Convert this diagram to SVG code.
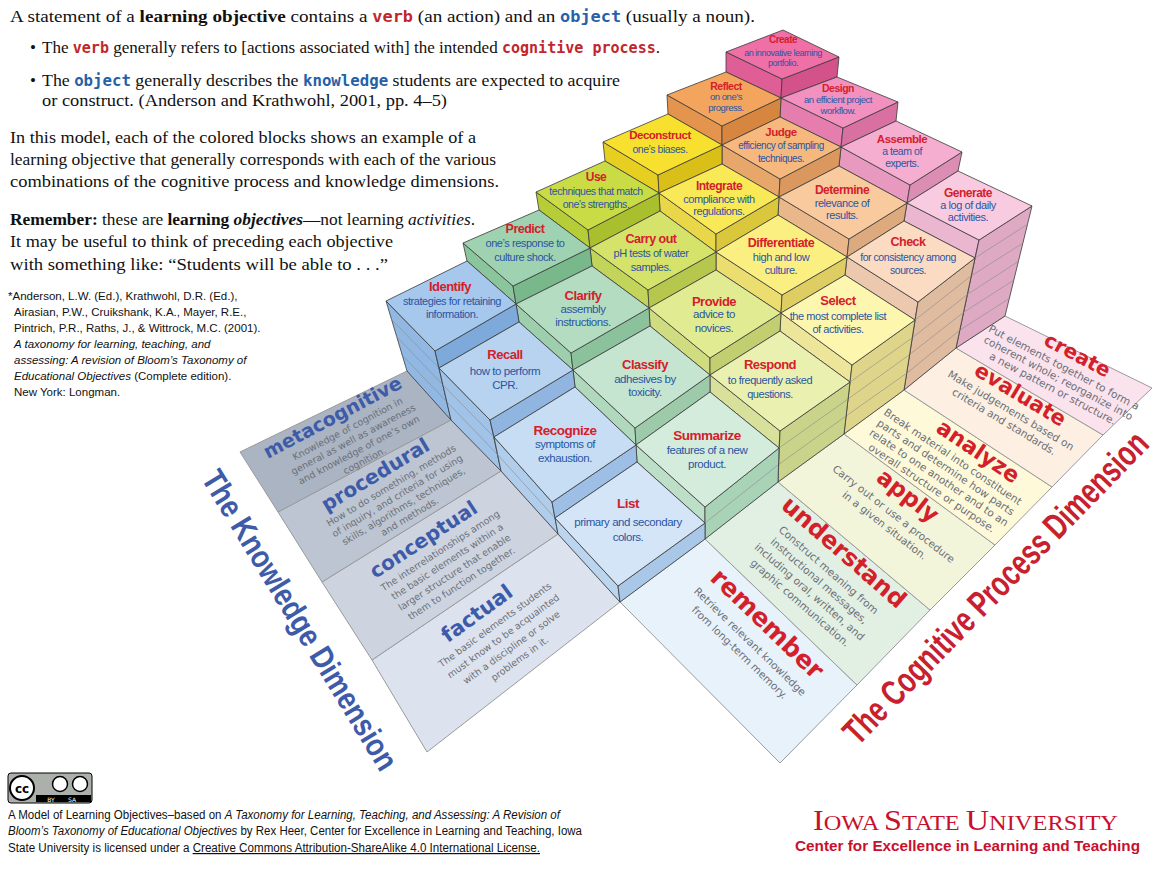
<svg xmlns="http://www.w3.org/2000/svg" width="1167" height="872" viewBox="0 0 1167 872">
<defs>
<style>
.e{stroke:#3a3a3a;stroke-width:0.8;stroke-linejoin:round}
.st{stroke:#8a8a8a;stroke-width:0.6;fill:none}
.fs{stroke:#9a9a9a;stroke-width:1}
.v{font-family:'Liberation Sans Narrow','Liberation Sans',sans-serif;font-weight:bold;fill:#d4202b;text-anchor:middle;letter-spacing:-0.5px}
.d{font-family:'Liberation Sans Narrow','Liberation Sans',sans-serif;fill:#2a55a3;text-anchor:middle;letter-spacing:-0.45px}
.kt{font-family:'DejaVu Sans',sans-serif;font-weight:bold;fill:#3d5ba9;text-anchor:middle}
.kd{font-family:'DejaVu Sans',sans-serif;fill:#6b6f78;text-anchor:middle;font-size:9.5px}
.ct{font-family:'DejaVu Sans',sans-serif;font-weight:bold;fill:#d4202b;text-anchor:middle}
.cd{font-family:'DejaVu Sans',sans-serif;fill:#6b6f78;text-anchor:middle;font-size:10.5px}
.h{font-family:'Liberation Serif',serif;font-size:17px;fill:#111}
.b{font-weight:bold}
.r{fill:#c0272d;font-weight:bold;font-family:'DejaVu Sans Mono',monospace;font-size:15px}
.bl{fill:#2461a8;font-weight:bold;font-family:'DejaVu Sans Mono',monospace;font-size:15px}
.ref{font-family:'Liberation Sans Narrow','Liberation Sans',sans-serif;font-size:11.5px;fill:#111}
.ft{font-family:'Liberation Sans Narrow','Liberation Sans',sans-serif;font-size:12px;fill:#111}
</style>
</defs>
<rect width="1167" height="872" fill="#fff"/>

<g id="header">
<text class="h" x="10" y="22" textLength="745" lengthAdjust="spacingAndGlyphs">A statement of a <tspan class="b">learning objective</tspan> contains a <tspan class="r">verb</tspan> (an action) and an <tspan class="bl">object</tspan> (usually a noun).</text>
<text class="h" x="30" y="53">•</text>
<text class="h" x="42" y="53" textLength="618" lengthAdjust="spacingAndGlyphs">The <tspan class="r">verb</tspan> generally refers to [actions associated with] the intended <tspan class="r">cognitive process</tspan>.</text>
<text class="h" x="30" y="86">•</text>
<text class="h" x="42" y="86" textLength="578" lengthAdjust="spacingAndGlyphs">The <tspan class="bl">object</tspan> generally describes the <tspan class="bl">knowledge</tspan> students are expected to acquire</text>
<text class="h" x="42" y="106" textLength="405" lengthAdjust="spacingAndGlyphs">or construct. (Anderson and Krathwohl, 2001, pp. 4–5)</text>
<text class="h" x="10" y="143" textLength="466" lengthAdjust="spacingAndGlyphs">In this model, each of the colored blocks shows an example of a</text>
<text class="h" x="10" y="165" textLength="486" lengthAdjust="spacingAndGlyphs">learning objective that generally corresponds with each of the various</text>
<text class="h" x="10" y="187" textLength="489" lengthAdjust="spacingAndGlyphs">combinations of the cognitive process and knowledge dimensions.</text>
<text class="h" x="10" y="225" textLength="465" lengthAdjust="spacingAndGlyphs"><tspan class="b">Remember:</tspan> these are <tspan class="b">learning <tspan font-style="italic">objectives</tspan></tspan>—not learning <tspan font-style="italic">activities</tspan>.</text>
<text class="h" x="10" y="247" textLength="383" lengthAdjust="spacingAndGlyphs">It may be useful to think of preceding each objective</text>
<text class="h" x="10" y="270" textLength="378" lengthAdjust="spacingAndGlyphs">with something like: “Students will be able to . . .”</text>
</g>

<g id="reference">
<text class="ref" x="8" y="300">*Anderson, L.W. (Ed.), Krathwohl, D.R. (Ed.),</text>
<text class="ref" x="14" y="316">Airasian, P.W., Cruikshank, K.A., Mayer, R.E.,</text>
<text class="ref" x="14" y="332">Pintrich, P.R., Raths, J., &amp; Wittrock, M.C. (2001).</text>
<text class="ref" x="14" y="348" font-style="italic">A taxonomy for learning, teaching, and</text>
<text class="ref" x="14" y="364" font-style="italic">assessing: A revision of Bloom’s Taxonomy of</text>
<text class="ref" x="14" y="380"><tspan font-style="italic">Educational Objectives</tspan> (Complete edition).</text>
<text class="ref" x="14" y="396">New York: Longman.</text>
</g>

<g id="floor">
<polygon class="fs" fill="#dde3ee" points="620,602 558,534 372,660 427,752"/>
<polygon class="fs" fill="#cdd4df" points="558,534 501,471 322,582 372,660"/>
<polygon class="fs" fill="#bcc5d1" points="501,471 451,420 278,512 322,582"/>
<polygon class="fs" fill="#aab4c2" points="451,420 407,371 240,452 278,512"/>
<polygon class="fs" fill="#e7f2fb" points="620,602 705,539 857,685 780,763"/>
<polygon class="fs" fill="#e2efe3" points="705,539 778,482 930,610 857,685"/>
<polygon class="fs" fill="#f3f5db" points="778,482 844,434 995,545 930,610"/>
<polygon class="fs" fill="#fdf9d9" points="844,434 904,390 1052,487 995,545"/>
<polygon class="fs" fill="#fdefe1" points="904,390 956,348 1103,435 1052,487"/>
<polygon class="fs" fill="#fbe3ee" points="956,348 1005,316 1152,388 1103,435"/>
</g>

<g id="knowledge-labels">
<g transform="translate(344,439) rotate(-28)"><text class="kt" font-size="19" y="-18">metacognitive</text><text class="kd" x="8" y="-4">Knowledge of cognition in</text><text class="kd" x="8" y="8">general as well as awareness</text><text class="kd" x="8" y="20">and knowledge of one’s own</text><text class="kd" x="8" y="32">cognition.</text></g>
<g transform="translate(388,496) rotate(-31)"><text class="kt" font-size="20" y="-18">procedural</text><text class="kd" x="8" y="-4">How to do something, methods</text><text class="kd" x="8" y="8">of inquiry, and criteria for using</text><text class="kd" x="8" y="20">skills, algorithms, techniques,</text><text class="kd" x="8" y="32">and methods.</text></g>
<g transform="translate(438,562) rotate(-33)"><text class="kt" font-size="20" y="-20">conceptual</text><text class="kd" x="8" y="-5" font-size="10">The interrelationships among</text><text class="kd" x="8" y="8" font-size="10">the basic elements within a</text><text class="kd" x="8" y="21" font-size="10">larger structure that enable</text><text class="kd" x="8" y="34" font-size="10">them to function together.</text></g>
<g transform="translate(494,637) rotate(-36)"><text class="kt" font-size="21" y="-22">factual</text><text class="kd" x="8" y="-6" font-size="10.5">The basic elements students</text><text class="kd" x="8" y="8" font-size="10.5">must know to be acquainted</text><text class="kd" x="8" y="22" font-size="10.5">with a discipline or solve</text><text class="kd" x="8" y="36" font-size="10.5">problems in it.</text></g>
</g>

<g id="cognitive-labels">
<g transform="translate(742,650) rotate(44)"><text class="ct" font-size="25" y="-28">remember</text><text class="cd" font-size="11" y="-8">Retrieve relevant knowledge</text><text class="cd" font-size="11" y="7">from long-term memory.</text></g>
<g transform="translate(819,581) rotate(41)"><text class="ct" font-size="24" y="-30">understand</text><text class="cd" y="-11">Construct meaning from</text><text class="cd" y="3.5">instructional messages,</text><text class="cd" y="18">including oral, written, and</text><text class="cd" y="32.5">graphic communication.</text></g>
<g transform="translate(889,520) rotate(38)"><text class="ct" font-size="23" y="-23">apply</text><text class="cd" y="-4">Carry out or use a procedure</text><text class="cd" y="10.5">in a given situation.</text></g>
<g transform="translate(948,464) rotate(34)"><text class="ct" font-size="22" x="18" y="-20">analyze</text><text class="cd" font-size="9.5" y="-5">Break material into constituent</text><text class="cd" font-size="9.5" y="7.5">parts and determine how parts</text><text class="cd" font-size="9.5" y="20">relate to one another and to an</text><text class="cd" font-size="9.5" y="32.5">overall structure or purpose.</text></g>
<g transform="translate(1007,417) rotate(31)"><text class="ct" font-size="21" y="-19">evaluate</text><text class="cd" font-size="10" y="-4">Make judgements based on</text><text class="cd" font-size="10" y="9">criteria and standards.</text></g>
<g transform="translate(1060,375) rotate(28)"><text class="ct" font-size="20" x="6" y="-19">create</text><text class="cd" font-size="9.5" y="-5">Put elements together to form a</text><text class="cd" font-size="9.5" y="7">coherent whole; reorganize into</text><text class="cd" font-size="9.5" y="19">a new pattern or structure.</text></g>
</g>

<g id="titles">
<text transform="translate(300,620) rotate(58.6)" font-family="'Liberation Sans Narrow','Liberation Sans',sans-serif" font-size="32" font-weight="bold" fill="#3d5ba9" text-anchor="middle" dy="11" textLength="345" lengthAdjust="spacingAndGlyphs">The Knowledge Dimension</text>
<text transform="translate(995,587) rotate(-45.8)" font-family="'Liberation Sans Narrow','Liberation Sans',sans-serif" font-size="36" font-weight="bold" fill="#c8202f" text-anchor="middle" dy="13" textLength="420" lengthAdjust="spacingAndGlyphs">The Cognitive Process Dimension</text>
</g>

<g id="connectors"></g>

<g id="create-meta">
<polygon class="e" fill="#e05e96" points="782,79 726,52 726,72 781,98"/>
<polygon class="e" fill="#d3528a" points="782,79 839,57 837,77 781,98"/>
<polygon class="e" fill="#ee70a7" points="782,79 839,57 783,30 726,52"/>
<text class="v" x="783" y="43" font-size="10">Create</text>
<text class="d" x="783" y="56" font-size="9">an innovative learning</text>
<text class="d" x="783" y="66" font-size="9">portfolio.</text>
</g>
<g id="design">
<polygon class="e" fill="#e57dae" points="843,128 781,98 780,117 841,147"/>
<polygon class="e" fill="#d871a2" points="843,128 898,102 896,121 841,147"/>
<polygon class="e" fill="#f291bf" points="843,128 898,102 837,77 781,98"/>
<text class="v" x="838" y="92" font-size="10.5">Design</text>
<text class="d" x="838" y="103" font-size="9.5">an efficient project</text>
<text class="d" x="838" y="114" font-size="9.5">workflow.</text>
</g>
<g id="reflect">
<polygon class="e" fill="#e4944c" points="722,126 667,95 668,114 722,145"/>
<polygon class="e" fill="#d78640" points="722,126 781,98 780,117 722,145"/>
<polygon class="e" fill="#f3a55d" points="722,126 781,98 726,72 667,95"/>
<text class="v" x="726" y="90" font-size="10.5">Reflect</text>
<text class="d" x="726" y="100" font-size="9.5">on one’s</text>
<text class="d" x="726" y="111" font-size="9.5">progress.</text>
</g>
<g id="assemble">
<polygon class="e" fill="#e899bf" points="910,185 841,147 839,166 907,203"/>
<polygon class="e" fill="#db8db3" points="910,185 962,152 958,171 907,203"/>
<polygon class="e" fill="#f5add0" points="910,185 962,152 896,121 841,147"/>
<text class="v" x="902" y="143" font-size="11.5">Assemble</text>
<text class="d" x="902" y="155" font-size="10.5">a team of</text>
<text class="d" x="902" y="167" font-size="10.5">experts.</text>
</g>
<g id="judge">
<polygon class="e" fill="#e7a66a" points="780,179 722,145 722,164 779,197"/>
<polygon class="e" fill="#da985e" points="780,179 841,147 839,166 779,197"/>
<polygon class="e" fill="#f6b87c" points="780,179 841,147 780,117 722,145"/>
<text class="v" x="781" y="136" font-size="11.5">Judge</text>
<text class="d" x="781" y="149" font-size="10">efficiency of sampling</text>
<text class="d" x="781" y="162" font-size="10">techniques.</text>
</g>
<g id="deconstruct">
<polygon class="e" fill="#e7cf22" points="658,175 603,142 605,161 659,193"/>
<polygon class="e" fill="#d9bf18" points="658,175 722,145 722,164 659,193"/>
<polygon class="e" fill="#f8e12e" points="658,175 722,145 668,114 603,142"/>
<text class="v" x="660" y="139" font-size="11.5">Deconstruct</text>
<text class="d" x="660" y="153" font-size="10.5">one’s biases.</text>
</g>
<g id="generate">
<polygon class="e" fill="#ebb6cf" points="979,240 907,203 904,221 975,258"/>
<polygon class="e" fill="#deaac3" points="979,240 1032,206 1005,316 956,348"/>
<path class="st" d="M960,330L1010,298M964,312L1014,280M968,294L1019,261M971,276L1023,243M975,258L1028,224"/>
<polygon class="e" fill="#f9cbe0" points="979,240 1032,206 958,171 907,203"/>
<text class="v" x="968" y="197" font-size="12">Generate</text>
<text class="d" x="968" y="209" font-size="11">a log of daily</text>
<text class="d" x="968" y="221" font-size="11">activities.</text>
</g>
<g id="determine">
<polygon class="e" fill="#eab78a" points="849,239 779,197 778,215 847,257"/>
<polygon class="e" fill="#ddaa7e" points="849,239 907,203 904,221 847,257"/>
<polygon class="e" fill="#f9ca9e" points="849,239 907,203 839,166 779,197"/>
<text class="v" x="842" y="194" font-size="12">Determine</text>
<text class="d" x="842" y="207" font-size="11">relevance of</text>
<text class="d" x="842" y="219" font-size="11">results.</text>
</g>
<g id="integrate">
<polygon class="e" fill="#e9d749" points="716,234 659,193 660,211 716,252"/>
<polygon class="e" fill="#dbc73c" points="716,234 779,197 778,215 716,252"/>
<polygon class="e" fill="#fae957" points="716,234 779,197 722,164 659,193"/>
<text class="v" x="719" y="190" font-size="12">Integrate</text>
<text class="d" x="719" y="203" font-size="11">compliance with</text>
<text class="d" x="719" y="215" font-size="11">regulations.</text>
</g>
<g id="use">
<polygon class="e" fill="#b7cd38" points="588,230 536,192 539,210 590,248"/>
<polygon class="e" fill="#a9bf2e" points="588,230 659,193 660,211 590,248"/>
<polygon class="e" fill="#c9dc45" points="588,230 659,193 605,161 536,192"/>
<text class="v" x="596" y="181" font-size="12">Use</text>
<text class="d" x="596" y="195" font-size="10.5">techniques that match</text>
<text class="d" x="596" y="208" font-size="10.5">one’s strengths.</text>
</g>
<g id="check">
<polygon class="e" fill="#ecc9ae" points="918,302 847,257 845,275 915,320"/>
<polygon class="e" fill="#dfbba0" points="918,302 975,258 956,348 904,390"/>
<path class="st" d="M907,373L960,330M909,355L964,312M912,338L968,294M915,320L971,276"/>
<polygon class="e" fill="#fbdcc2" points="918,302 975,258 904,221 847,257"/>
<text class="v" x="908" y="246" font-size="12.5">Check</text>
<text class="d" x="908" y="261" font-size="10.5">for consistency among</text>
<text class="d" x="908" y="274" font-size="10.5">sources.</text>
</g>
<g id="differentiate">
<polygon class="e" fill="#ebdd70" points="782,295 716,252 716,270 781,313"/>
<polygon class="e" fill="#ddcd62" points="782,295 847,257 845,275 781,313"/>
<polygon class="e" fill="#fcef82" points="782,295 847,257 778,215 716,252"/>
<text class="v" x="781" y="247" font-size="12.5">Differentiate</text>
<text class="d" x="781" y="261" font-size="11">high and low</text>
<text class="d" x="781" y="274" font-size="11">culture.</text>
</g>
<g id="carry-out">
<polygon class="e" fill="#c3d45a" points="648,290 590,248 592,266 649,308"/>
<polygon class="e" fill="#b5c74c" points="648,290 716,252 716,270 649,308"/>
<polygon class="e" fill="#d5e36a" points="648,290 716,252 660,211 590,248"/>
<text class="v" x="651" y="243" font-size="12.5">Carry out</text>
<text class="d" x="651" y="257" font-size="11">pH tests of water</text>
<text class="d" x="651" y="271" font-size="11">samples.</text>
</g>
<g id="predict">
<polygon class="e" fill="#8ac59c" points="513,286 463,243 467,261 516,304"/>
<polygon class="e" fill="#79b88a" points="513,286 590,248 592,266 516,304"/>
<polygon class="e" fill="#9ed2b0" points="513,286 590,248 539,210 463,243"/>
<text class="v" x="525" y="233" font-size="12.5">Predict</text>
<text class="d" x="525" y="247" font-size="11">one’s response to</text>
<text class="d" x="525" y="261" font-size="11">culture shock.</text>
</g>
<g id="select">
<polygon class="e" fill="#ece59a" points="852,365 781,313 780,331 850,382"/>
<polygon class="e" fill="#dfd58a" points="852,365 915,320 904,390 844,434"/>
<path class="st" d="M846,416L907,373M848,399L909,355M850,382L912,338"/>
<polygon class="e" fill="#fdf6ae" points="852,365 915,320 845,275 781,313"/>
<text class="v" x="838" y="305" font-size="13">Select</text>
<text class="d" x="838" y="320" font-size="11">the most complete list</text>
<text class="d" x="838" y="333" font-size="11">of activities.</text>
</g>
<g id="provide">
<polygon class="e" fill="#cfdc80" points="710,358 649,308 650,326 710,375"/>
<polygon class="e" fill="#c1cf70" points="710,358 781,313 780,331 710,375"/>
<polygon class="e" fill="#e1eb92" points="710,358 781,313 716,270 649,308"/>
<text class="v" x="714" y="306" font-size="13">Provide</text>
<text class="d" x="714" y="318" font-size="11.5">advice to</text>
<text class="d" x="714" y="332" font-size="11.5">novices.</text>
</g>
<g id="clarify">
<polygon class="e" fill="#9ecfad" points="571,353 516,304 519,322 573,370"/>
<polygon class="e" fill="#8cc29b" points="571,353 649,308 650,326 573,370"/>
<polygon class="e" fill="#b3dcc1" points="571,353 649,308 592,266 516,304"/>
<text class="v" x="583" y="300" font-size="13">Clarify</text>
<text class="d" x="583" y="313" font-size="11.5">assembly</text>
<text class="d" x="583" y="326" font-size="11.5">instructions.</text>
</g>
<g id="identify">
<polygon class="e" fill="#90b8e3" points="435,351 386,301 407,371 451,420"/>
<path class="st" d="M447,402L401,354M443,385L396,336M439,368L391,319"/>
<polygon class="e" fill="#7eaadb" points="435,351 516,304 519,322 439,368"/>
<polygon class="e" fill="#a5c8ec" points="435,351 516,304 467,261 386,301"/>
<text class="v" x="450" y="291" font-size="13">Identify</text>
<text class="d" x="452" y="305" font-size="11">strategies for retaining</text>
<text class="d" x="452" y="318" font-size="11">information.</text>
</g>
<g id="respond">
<polygon class="e" fill="#d7e19b" points="780,431 710,375 710,392 779,448"/>
<polygon class="e" fill="#c9d48a" points="780,431 850,382 844,434 778,482"/>
<path class="st" d="M778,465L846,416M779,448L848,399"/>
<polygon class="e" fill="#e9f0b0" points="780,431 850,382 780,331 710,375"/>
<text class="v" x="770" y="369" font-size="13">Respond</text>
<text class="d" x="770" y="384" font-size="11">to frequently asked</text>
<text class="d" x="770" y="398" font-size="11">questions.</text>
</g>
<g id="classify">
<polygon class="e" fill="#b0d8bc" points="635,428 573,370 575,387 636,445"/>
<polygon class="e" fill="#9dcbaa" points="635,428 710,375 710,392 636,445"/>
<polygon class="e" fill="#c5e5d0" points="635,428 710,375 650,326 573,370"/>
<text class="v" x="645" y="369" font-size="13">Classify</text>
<text class="d" x="645" y="383" font-size="11.5">adhesives by</text>
<text class="d" x="645" y="396" font-size="11.5">toxicity.</text>
</g>
<g id="recall">
<polygon class="e" fill="#a2c3e8" points="490,420 439,368 451,420 501,471"/>
<path class="st" d="M497,454L447,402M494,437L443,385"/>
<polygon class="e" fill="#8fb5e0" points="490,420 573,370 575,387 494,437"/>
<polygon class="e" fill="#b7d3f0" points="490,420 573,370 519,322 439,368"/>
<text class="v" x="505" y="359" font-size="13">Recall</text>
<text class="d" x="505" y="375" font-size="11.5">how to perform</text>
<text class="d" x="505" y="389" font-size="11.5">CPR.</text>
</g>
<g id="summarize">
<polygon class="e" fill="#bddfc8" points="705,507 636,445 637,462 705,523"/>
<polygon class="e" fill="#a9d3b6" points="705,507 779,448 778,482 705,539"/>
<path class="st" d="M705,523L778,465"/>
<polygon class="e" fill="#d3ecdc" points="705,507 779,448 710,392 636,445"/>
<text class="v" x="707" y="440" font-size="13.5">Summarize</text>
<text class="d" x="707" y="454" font-size="11.5">features of a new</text>
<text class="d" x="707" y="468" font-size="11.5">product.</text>
</g>
<g id="recognize">
<polygon class="e" fill="#b0cdec" points="552,502 494,437 501,471 558,534"/>
<path class="st" d="M555,518L497,454"/>
<polygon class="e" fill="#9dbfe5" points="552,502 636,445 637,462 555,518"/>
<polygon class="e" fill="#c6ddf4" points="552,502 636,445 575,387 494,437"/>
<text class="v" x="565" y="435" font-size="13.5">Recognize</text>
<text class="d" x="565" y="448" font-size="11.5">symptoms of</text>
<text class="d" x="565" y="462" font-size="11.5">exhaustion.</text>
</g>
<g id="list">
<polygon class="e" fill="#bcd5ef" points="618,586 555,518 558,534 620,602"/>
<polygon class="e" fill="#a9c8e8" points="618,586 705,523 705,539 620,602"/>
<polygon class="e" fill="#d3e5f7" points="618,586 705,523 637,462 555,518"/>
<text class="v" x="628" y="508" font-size="13.5">List</text>
<text class="d" x="628" y="526" font-size="11.5">primary and secondary</text>
<text class="d" x="628" y="541" font-size="11.5">colors.</text>
</g>

<g id="license">
<rect x="8" y="773" width="84" height="30" rx="3" fill="#abb1aa" stroke="#000" stroke-width="1"/>
<rect x="36" y="795" width="55" height="7" fill="#000"/>
<circle cx="22" cy="788" r="12" fill="#fff" stroke="#000" stroke-width="2"/>
<text x="22" y="793" font-family="'DejaVu Sans',sans-serif" font-weight="bold" font-size="12" text-anchor="middle" fill="#000">cc</text>
<circle cx="60" cy="784" r="7.5" fill="#fff" stroke="#000" stroke-width="1.5"/>
<circle cx="80" cy="784" r="7.5" fill="#fff" stroke="#000" stroke-width="1.5"/>
<text x="51" y="801.5" font-family="'DejaVu Sans',sans-serif" font-size="6" fill="#fff" text-anchor="middle">BY</text>
<text x="72" y="801.5" font-family="'DejaVu Sans',sans-serif" font-size="6" fill="#fff" text-anchor="middle">SA</text>
<text class="ft" x="8" y="819" textLength="552" lengthAdjust="spacingAndGlyphs">A Model of Learning Objectives–based on <tspan font-style="italic">A Taxonomy for Learning, Teaching, and Assessing: A Revision of</tspan></text>
<text class="ft" x="8" y="835" textLength="574" lengthAdjust="spacingAndGlyphs"><tspan font-style="italic">Bloom’s Taxonomy of Educational Objectives</tspan> by Rex Heer, Center for Excellence in Learning and Teaching, Iowa</text>
<text class="ft" x="8" y="852" textLength="532" lengthAdjust="spacingAndGlyphs">State University is licensed under a <tspan text-decoration="underline">Creative Commons Attribution-ShareAlike 4.0 International License.</tspan></text>
</g>

<g id="isu">
<text x="813" y="830" font-family="'Liberation Serif',serif" fill="#c8102e" textLength="305" lengthAdjust="spacingAndGlyphs"><tspan font-size="29">I</tspan><tspan font-size="22">OWA </tspan><tspan font-size="29">S</tspan><tspan font-size="22">TATE </tspan><tspan font-size="29">U</tspan><tspan font-size="22">NIVERSITY</tspan></text>
<text x="795" y="851" font-family="'Liberation Sans',sans-serif" font-weight="bold" font-size="14" fill="#c8102e" textLength="345" lengthAdjust="spacingAndGlyphs">Center for Excellence in Learning and Teaching</text>
</g>
</svg>
